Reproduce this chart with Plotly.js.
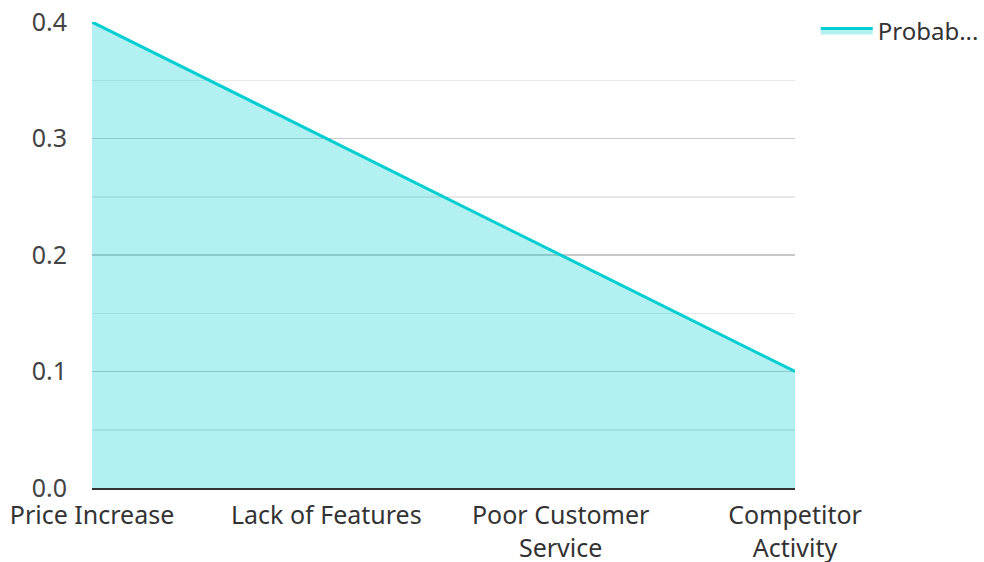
<!DOCTYPE html>
<html>
<head>
<meta charset="utf-8">
<script src="https://cdn.plot.ly/plotly-3.0.1.min.js"></script>
<style>html,body{margin:0;padding:0;background:#fff;}#chart{width:984px;height:562px;}</style>
</head>
<body>
<div id="chart"></div>
<script>
const categories = ["Price Increase", "Lack of Features", "Poor Customer<br>Service", "Competitor<br>Activity"];
const probability = [0.4, 0.3, 0.2, 0.1];
const seriesName = "Probab...";
const yTicks = [0, 0.1, 0.2, 0.3, 0.4];

const trace = {
  type: 'scatter',
  mode: 'lines',
  x: categories,
  y: probability,
  name: seriesName,
  fill: 'tozeroy',
  fillcolor: 'rgba(0,206,209,0.3)',
  line: {color: '#00CED1', width: 3}
};

const layout = {
  width: 984, height: 562,
  margin: {l: 92, r: 189, t: 22, b: 74, autoexpand: false},
  paper_bgcolor: '#fff', plot_bgcolor: '#fff',
  font: {family: '"Noto Sans", "Open Sans", sans-serif', size: 25, color: '#444'},
  showlegend: true,
  legend: {xref: 'container', yref: 'container', x: 0.829, y: 0.985,
           xanchor: 'left', yanchor: 'top', itemwidth: 52,
           font: {size: 24, color: '#333'}},
  xaxis: {
    type: 'category',
    range: [0, 3],
    automargin: false,
    showgrid: false,
    showline: true, linecolor: '#333', linewidth: 2,
    ticks: '', tickfont: {size: 25, color: '#333'},
    ticklabelstandoff: 4,
    fixedrange: true
  },
  yaxis: {
    range: [0, 0.4],
    automargin: false,
    tickvals: yTicks,
    tickformat: '.1f',
    showgrid: true, gridcolor: '#c8c8c8', gridwidth: 1.5,
    minor: {dtick: 0.05, showgrid: true, gridcolor: '#e8e8e8', gridwidth: 1.5},
    zeroline: false,
    showline: false,
    ticks: '',
    ticklabelstandoff: 24,
    tickfont: {size: 25, color: '#444'},
    fixedrange: true
  }
};

Plotly.newPlot('chart', [trace], layout, {displayModeBar: false, staticPlot: true});
</script>
</body>
</html>
